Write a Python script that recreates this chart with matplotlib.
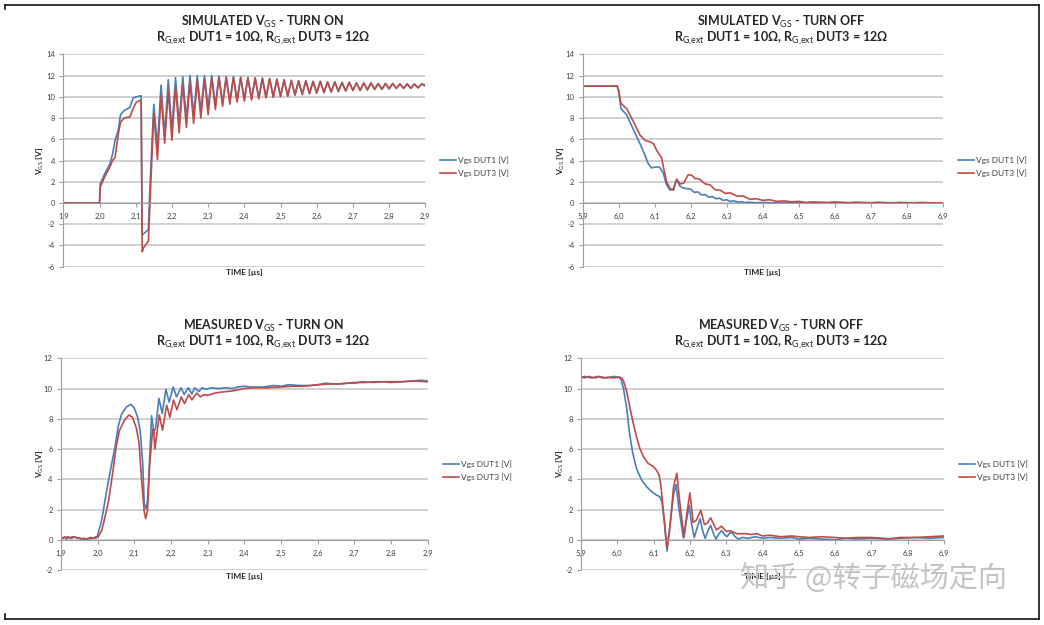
import matplotlib
matplotlib.use('Agg')
import matplotlib.pyplot as plt
from matplotlib.lines import Line2D
from matplotlib.ticker import FuncFormatter

plt.rcParams['font.family'] = ['Lato', 'DejaVu Sans']
plt.rcParams['mathtext.fontset'] = 'custom'
plt.rcParams['mathtext.rm'] = 'Lato'
plt.rcParams['mathtext.bf'] = 'Lato:bold'
plt.rcParams['axes.unicode_minus'] = False

# ---- simulated turn on ----
sim_on_t = [1.900, 2.000, 2.002, 2.015, 2.029, 2.036, 2.043, 2.052, 2.058, 2.068, 2.084, 2.093, 2.102,
            2.115, 2.118, 2.122, 2.135, 2.140,
            2.15, 2.16, 2.17, 2.18, 2.19, 2.20, 2.21, 2.22, 2.23, 2.24, 2.25, 2.26, 2.27, 2.28, 2.29, 2.30,
            2.31, 2.32, 2.33, 2.34, 2.35, 2.36, 2.37, 2.38, 2.39, 2.40, 2.41, 2.42, 2.43, 2.44, 2.45, 2.46,
            2.47, 2.48, 2.49, 2.50, 2.51, 2.52, 2.53, 2.54, 2.55, 2.56, 2.57, 2.58, 2.59, 2.60, 2.61, 2.62,
            2.63, 2.64, 2.65, 2.66, 2.67, 2.68, 2.69, 2.70, 2.71, 2.72, 2.73, 2.74, 2.75, 2.76, 2.77, 2.78,
            2.79, 2.80, 2.81, 2.82, 2.83, 2.84, 2.85, 2.86, 2.87, 2.88, 2.89, 2.90]
sim_on_dut1 = [0, 0, 1.8, 2.8, 3.7, 4.6, 5.9, 6.9, 8.3, 8.7, 9.0, 9.9, 10.0,
               10.1, -3.0, -2.9, -2.5, 2.0,
               9.3, 5.3, 11.1, 6.4, 11.6, 6.9, 11.8, 7.5, 11.9, 7.9, 12.0, 8.3, 12.0, 8.7, 12.0, 9.0,
               12.0, 9.2, 11.95, 9.4, 11.9, 9.6, 11.9, 9.7, 11.85, 9.8, 11.8, 9.85, 11.8, 9.9, 11.75, 9.95,
               11.7, 10.0, 11.65, 10.05, 11.6, 10.1, 11.55, 10.2, 11.5, 10.25, 11.5, 10.3, 11.45, 10.35, 11.45, 10.4,
               11.4, 10.45, 11.4, 10.5, 11.35, 10.55, 11.35, 10.6, 11.3, 10.6, 11.3, 10.65, 11.3, 10.7, 11.25, 10.7,
               11.25, 10.75, 11.25, 10.8, 11.2, 10.8, 11.2, 10.8, 11.2, 10.85, 11.2, 11.0]
sim_on_dut3 = [0, 0, 1.5, 2.5, 3.4, 4.0, 4.3, 6.5, 7.6, 8.0, 8.1, 8.9, 9.5,
               9.7, -4.6, -4.2, -3.6, 0.5,
               8.5, 4.1, 10.2, 5.6, 10.6, 5.9, 11.0, 6.6, 11.2, 7.1, 11.4, 7.5, 11.5, 8.0, 11.7, 8.3,
               11.8, 8.8, 11.85, 9.1, 11.85, 9.3, 11.85, 9.5, 11.8, 9.6, 11.8, 9.7, 11.75, 9.8, 11.75, 9.9,
               11.7, 9.95, 11.65, 10.0, 11.6, 10.05, 11.55, 10.15, 11.5, 10.2, 11.5, 10.3, 11.45, 10.35, 11.45, 10.4,
               11.4, 10.45, 11.4, 10.5, 11.35, 10.55, 11.35, 10.6, 11.3, 10.6, 11.3, 10.65, 11.3, 10.7, 11.25, 10.7,
               11.25, 10.75, 11.25, 10.8, 11.2, 10.8, 11.2, 10.8, 11.2, 10.85, 11.2, 11.1]

# ---- simulated turn off ----
sim_off_t1 = [5.900, 5.996, 6.000, 6.006, 6.022, 6.041, 6.059, 6.073, 6.082, 6.091, 6.105, 6.114, 6.124,
              6.133, 6.143, 6.152, 6.161, 6.170, 6.180, 6.190, 6.200, 6.210, 6.220, 6.230, 6.240, 6.250,
              6.260, 6.270, 6.280, 6.290, 6.300, 6.310, 6.320, 6.330, 6.340, 6.350, 6.360, 6.380, 6.400,
              6.450, 6.500, 6.600, 6.700, 6.800, 6.900]
sim_off_dut1 = [11.0, 11.0, 10.6, 8.9, 8.3, 6.9, 5.6, 4.5, 3.7, 3.3, 3.4, 3.35, 2.8,
                1.7, 1.2, 1.35, 2.2, 1.6, 1.4, 1.35, 1.3, 1.0, 1.05, 0.75, 0.8, 0.55,
                0.6, 0.4, 0.45, 0.25, 0.3, 0.15, 0.2, 0.1, 0.12, 0.03, 0.08, 0.02, 0.04,
                0.0, 0.02, 0.0, 0.0, 0.0, 0.0]
sim_off_t3 = [5.900, 5.996, 6.000, 6.006, 6.015, 6.022, 6.041, 6.059, 6.073, 6.087, 6.096, 6.105, 6.114,
              6.119, 6.124, 6.133, 6.143, 6.152, 6.161, 6.170, 6.180, 6.193, 6.203, 6.212, 6.220, 6.226,
              6.240, 6.254, 6.268, 6.282, 6.296, 6.310, 6.328, 6.346, 6.365, 6.383, 6.400, 6.420, 6.440,
              6.460, 6.480, 6.500, 6.520, 6.540, 6.580, 6.600, 6.640, 6.660, 6.700, 6.720, 6.760, 6.780,
              6.820, 6.840, 6.880, 6.900]
sim_off_dut3 = [11.0, 11.0, 10.5, 9.4, 9.1, 8.9, 7.65, 6.4, 5.9, 5.75, 5.6, 5.0, 4.5,
                4.3, 3.4, 2.0, 1.35, 1.2, 2.25, 1.8, 1.85, 2.65, 2.6, 2.3, 2.3, 2.2,
                1.8, 1.7, 1.25, 1.2, 0.9, 0.95, 0.65, 0.65, 0.35, 0.4, 0.25, 0.3, 0.15,
                0.2, 0.1, 0.15, 0.05, 0.1, 0.05, 0.1, 0.03, 0.08, 0.02, 0.07, 0.0, 0.05,
                0.0, 0.05, 0.0, 0.02]

# ---- measured turn on ----
meas_on_t1 = [1.900, 1.905, 1.910, 1.915, 1.920, 1.930, 1.935, 1.940, 1.950, 1.960, 1.970, 1.975, 1.980,
              1.990, 1.995, 2.000, 2.011, 2.025, 2.038, 2.047, 2.056, 2.065, 2.079, 2.091, 2.100, 2.109,
              2.116, 2.123, 2.127, 2.132, 2.136, 2.141, 2.147, 2.153, 2.158, 2.167, 2.176, 2.186, 2.195,
              2.206, 2.215, 2.227, 2.236, 2.247, 2.257, 2.265, 2.276, 2.285, 2.295, 2.310, 2.330, 2.350,
              2.370, 2.380, 2.400, 2.420, 2.450, 2.480, 2.500, 2.520, 2.550, 2.580, 2.600, 2.620, 2.650,
              2.680, 2.700, 2.720, 2.750, 2.780, 2.800, 2.830, 2.860, 2.880, 2.900]
meas_on_dut1 = [0.15, 0.1, 0.2, 0.05, 0.15, 0.1, 0.2, 0.15, 0.1, 0.05, 0.0, 0.1, 0.05,
                0.15, 0.1, 0.3, 1.3, 3.3, 5.0, 6.1, 7.5, 8.3, 8.8, 8.95, 8.7, 8.1,
                7.2, 5.0, 2.4, 2.05, 2.6, 5.0, 8.2, 7.1, 7.4, 9.35, 8.35, 9.95, 9.1,
                10.1, 9.45, 10.05, 9.6, 10.05, 9.65, 10.05, 9.8, 10.05, 9.95, 10.05, 10.0, 10.05,
                10.0, 10.1, 10.15, 10.1, 10.1, 10.2, 10.15, 10.25, 10.2, 10.2, 10.25, 10.35, 10.3,
                10.35, 10.35, 10.45, 10.4, 10.45, 10.4, 10.45, 10.5, 10.55, 10.5]
meas_on_t3 = [1.900, 1.905, 1.910, 1.920, 1.925, 1.930, 1.940, 1.950, 1.955, 1.960, 1.970, 1.980, 1.990,
              1.995, 2.000, 2.011, 2.020, 2.030, 2.042, 2.050, 2.059, 2.073, 2.085, 2.095, 2.106, 2.113,
              2.120, 2.127, 2.131, 2.136, 2.142, 2.150, 2.153, 2.156, 2.168, 2.177, 2.188, 2.197, 2.207,
              2.216, 2.228, 2.237, 2.248, 2.257, 2.270, 2.280, 2.290, 2.300, 2.320, 2.333, 2.350, 2.370,
              2.400, 2.430, 2.460, 2.500, 2.530, 2.560, 2.600, 2.630, 2.660, 2.700, 2.730, 2.760, 2.800,
              2.830, 2.860, 2.900]
meas_on_dut3 = [0.2, 0.1, 0.15, 0.2, 0.1, 0.2, 0.15, 0.1, 0.05, 0.1, 0.05, 0.15, 0.1,
                0.2, 0.15, 0.6, 1.5, 2.6, 4.6, 6.1, 7.2, 7.9, 8.25, 8.1, 7.35, 6.35,
                3.9, 1.85, 1.4, 1.95, 5.0, 7.3, 7.2, 6.0, 8.25, 7.25, 8.9, 8.1, 9.25,
                8.6, 9.45, 9.0, 9.6, 9.25, 9.7, 9.45, 9.6, 9.55, 9.7, 9.75, 9.8, 9.85,
                10.0, 10.05, 10.05, 10.1, 10.15, 10.15, 10.25, 10.3, 10.3, 10.4, 10.4, 10.45, 10.45,
                10.45, 10.5, 10.45]

# ---- measured turn off ----
meas_off_t1 = [5.900, 5.910, 5.920, 5.930, 5.940, 5.950, 5.960, 5.970, 5.980, 5.990, 6.005, 6.010, 6.017,
               6.026, 6.033, 6.042, 6.053, 6.067, 6.081, 6.094, 6.108, 6.117, 6.123, 6.130, 6.137, 6.148,
               6.155, 6.162, 6.170, 6.182, 6.190, 6.198, 6.205, 6.212, 6.220, 6.228, 6.235, 6.242, 6.250,
               6.257, 6.265, 6.272, 6.280, 6.288, 6.295, 6.302, 6.310, 6.315, 6.325, 6.333, 6.345, 6.360,
               6.380, 6.400, 6.420, 6.450, 6.480, 6.500, 6.530, 6.560, 6.600, 6.630, 6.660, 6.700, 6.740,
               6.780, 6.820, 6.860, 6.900]
meas_off_dut1 = [10.75, 10.7, 10.8, 10.75, 10.7, 10.8, 10.75, 10.7, 10.75, 10.8, 10.75, 10.6, 10.0,
                 8.7, 7.15, 5.8, 4.7, 3.95, 3.5, 3.2, 2.95, 2.85, 2.5, 1.2, -0.75, 1.6,
                 3.0, 3.65, 2.0, 0.13, 1.2, 2.27, 1.0, 0.15, 0.8, 1.4, 0.6, 0.1, 0.6,
                 0.95, 0.4, 0.05, 0.4, 0.6, 0.35, 0.2, 0.45, 0.5, 0.2, 0.05, 0.15, 0.1,
                 0.2, 0.1, 0.15, 0.1, 0.15, 0.05, 0.1, 0.05, 0.0, 0.1, 0.05, 0.1, 0.05,
                 0.1, 0.15, 0.1, 0.15]
meas_off_t3 = [5.900, 5.910, 5.920, 5.930, 5.945, 5.960, 5.975, 5.990, 6.005, 6.012, 6.017, 6.026, 6.035,
               6.044, 6.053, 6.062, 6.072, 6.085, 6.099, 6.108, 6.115, 6.120, 6.126, 6.133, 6.137, 6.145,
               6.155, 6.164, 6.172, 6.184, 6.192, 6.200, 6.209, 6.218, 6.230, 6.240, 6.248, 6.257, 6.273,
               6.287, 6.300, 6.310, 6.330, 6.355, 6.370, 6.385, 6.400, 6.420, 6.450, 6.480, 6.500, 6.530,
               6.560, 6.600, 6.630, 6.660, 6.700, 6.730, 6.750, 6.780, 6.820, 6.860, 6.900]
meas_off_dut3 = [10.75, 10.8, 10.75, 10.7, 10.8, 10.7, 10.75, 10.7, 10.75, 10.7, 10.5, 9.8, 8.7,
                 7.7, 6.8, 6.05, 5.5, 5.05, 4.85, 4.6, 4.3, 3.6, 2.1, 0.3, -0.55, 0.8,
                 3.5, 4.4, 2.5, 0.15, 1.8, 3.1, 1.15, 1.3, 1.95, 1.0, 1.1, 1.45, 0.65,
                 0.9, 0.55, 0.6, 0.4, 0.4, 0.35, 0.4, 0.25, 0.3, 0.2, 0.25, 0.2, 0.15,
                 0.2, 0.15, 0.1, 0.15, 0.15, 0.1, 0.05, 0.15, 0.15, 0.2, 0.25]

W, H = 1044, 625
BLUE = '#4a7ebb'
RED = '#be4b48'
GRID = '#c3c3c3'
TXT = '#404040'

fig = plt.figure(figsize=(W / 100, H / 100), dpi=100)


def px_axes(l, t, r, b):
    return fig.add_axes([l / W, 1 - b / H, (r - l) / W, (b - t) / H])


def panel(box, xlim, ylim, xt1, y1, xt3, y3, titles, title_cx, title_y, ylab_x, xlab_y, leg_xy):
    ax = px_axes(*box)
    ax.plot(xt1, y1, color=BLUE, lw=1.2, label='Vgs DUT1 [V]')
    ax.plot(xt3, y3, color=RED, lw=1.2, label='Vgs DUT3 [V]')
    ax.set_xlim(xlim)
    ax.set_ylim(ylim)
    ax.set_xticks([round(xlim[0] + 0.1 * i, 1) for i in range(11)])
    ax.set_yticks(list(range(ylim[0], ylim[1] + 1, 2)))
    ax.xaxis.set_major_formatter(FuncFormatter(lambda v, p: f'{v:.1f}'.replace('.', ',')))
    ax.yaxis.set_major_formatter(FuncFormatter(lambda v, p: f'{v:.0f}'))
    ax.grid(axis='y', color=GRID, lw=1.1)
    ax.set_axisbelow(True)
    for s in ['top', 'right']:
        ax.spines[s].set_visible(False)
    ax.spines['bottom'].set_position(('data', 0))
    ax.spines['bottom'].set_color('#a0a0a0')
    ax.spines['left'].set_color('#a0a0a0')
    ax.tick_params(axis='x', length=3, width=0.8, color='#a0a0a0', labelsize=5.5, labelcolor=TXT, pad=4)
    ax.tick_params(axis='y', length=3, width=0.8, color='#a0a0a0', labelsize=5.5, labelcolor=TXT, pad=3)
    for txt, ty in zip(titles, title_y):
        fig.text(title_cx / W, 1 - ty / H, txt, ha='center', va='center',
                 fontsize=9, fontweight='bold', color='#262626')
    cx = (box[0] + box[2]) / 2
    cy = (box[1] + box[3]) / 2
    fig.text(cx / W, 1 - xlab_y / H, 'TIME [µs]', ha='center', va='center',
             fontsize=6, fontweight='bold', color='#262626')
    fig.text(ylab_x / W, 1 - cy / H, r'V$_{\mathrm{GS}}$ [V]', ha='center', va='center',
             rotation=90, fontsize=6, fontweight='bold', color='#262626')
    ax.legend(loc='center left', bbox_to_anchor=(leg_xy[0] / W, 1 - leg_xy[1] / H),
              bbox_transform=fig.transFigure, frameon=False, fontsize=6,
              handlelength=1.9, handletextpad=0.3, labelspacing=0.6, borderpad=0,
              borderaxespad=0, labelcolor=TXT)
    return ax


line2 = r'R$_{\mathrm{G{,}ext}}$ DUT1 = 10Ω, R$_{\mathrm{G{,}ext}}$ DUT3 = 12Ω'

panel((63.3, 54.3, 425.3, 266.7), (1.9, 2.9), (-6, 14), sim_on_t, sim_on_dut1, sim_on_t, sim_on_dut3,
      (r'SIMULATED V$_{\mathrm{GS}}$ - TURN ON', line2), 263, (22, 38), 40, 272.5, (440, 166.5))
panel((582.7, 54.3, 942.7, 266.7), (5.9, 6.9), (-6, 14), sim_off_t1, sim_off_dut1, sim_off_t3, sim_off_dut3,
      (r'SIMULATED V$_{\mathrm{GS}}$ - TURN OFF', line2), 781.5, (22, 38), 561, 272.5, (958, 166.5))
panel((61, 358.3, 427.7, 570), (1.9, 2.9), (-2, 12), meas_on_t1, meas_on_dut1, meas_on_t3, meas_on_dut3,
      (r'MEASURED V$_{\mathrm{GS}}$ - TURN ON', line2), 263, (325.5, 342.5), 40, 577, (443, 470.5))
panel((581, 358.3, 944, 570), (5.9, 6.9), (-2, 12), meas_off_t1, meas_off_dut1, meas_off_t3, meas_off_dut3,
      (r'MEASURED V$_{\mathrm{GS}}$ - TURN OFF', line2), 781, (325.5, 342.5), 560, 577, (959, 470.5))


# frame around the picture
def fline(xs, ys):
    fig.add_artist(Line2D([x / W for x in xs], [1 - y / H for y in ys], color='#111111', lw=1.2))


fline([5, 1038.5], [5, 5])
fline([1038.5, 1038.5], [5, 618.5])
fline([5, 1038.5], [618.5, 618.5])
fline([5, 5], [5, 9])
fline([5, 5], [614, 618.5])

# watermark (lies over the last x label, as in the source picture)
fig.text(874 / W, 1 - 580 / H, '知乎 @转子磁场定向', family=['Noto Sans CJK SC', 'DejaVu Sans'],
         fontsize=21, color='#c4c4c4', ha='center', va='center', zorder=10)

fig.savefig('out.png', dpi=100, facecolor='white')
